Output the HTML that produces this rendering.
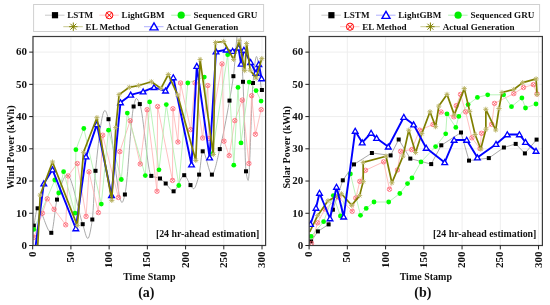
<!DOCTYPE html>
<html><head><meta charset="utf-8"><style>
html,body{margin:0;padding:0;background:#fff;width:550px;height:305px;overflow:hidden}
svg{display:block}
body>svg{will-change:transform}
text{font-family:"Liberation Serif",serif;font-weight:bold;fill:#111}
.tk{font-size:11px}
.ax{font-size:10px}
.lab{font-size:14px}
.lg{font-size:9.1px}
.ann{font-size:9.9px}
</style></head><body>
<svg width="550" height="305" viewBox="0 0 550 305">
<rect width="550" height="305" fill="#fff"/>
<line x1="32.7" y1="36.5" x2="32.7" y2="245.5" stroke="#ececec" stroke-width="0.9"/>
<line x1="70.92" y1="36.5" x2="70.92" y2="245.5" stroke="#ececec" stroke-width="0.9"/>
<line x1="109.14" y1="36.5" x2="109.14" y2="245.5" stroke="#ececec" stroke-width="0.9"/>
<line x1="147.36" y1="36.5" x2="147.36" y2="245.5" stroke="#ececec" stroke-width="0.9"/>
<line x1="185.58" y1="36.5" x2="185.58" y2="245.5" stroke="#ececec" stroke-width="0.9"/>
<line x1="223.8" y1="36.5" x2="223.8" y2="245.5" stroke="#ececec" stroke-width="0.9"/>
<line x1="262.02" y1="36.5" x2="262.02" y2="245.5" stroke="#ececec" stroke-width="0.9"/>
<line x1="33" y1="213.27" x2="265.6" y2="213.27" stroke="#ececec" stroke-width="0.9"/>
<line x1="33" y1="181.04" x2="265.6" y2="181.04" stroke="#ececec" stroke-width="0.9"/>
<line x1="33" y1="148.81" x2="265.6" y2="148.81" stroke="#ececec" stroke-width="0.9"/>
<line x1="33" y1="116.58" x2="265.6" y2="116.58" stroke="#ececec" stroke-width="0.9"/>
<line x1="33" y1="84.35" x2="265.6" y2="84.35" stroke="#ececec" stroke-width="0.9"/>
<line x1="33" y1="52.12" x2="265.6" y2="52.12" stroke="#ececec" stroke-width="0.9"/>
<line x1="309.1" y1="36.5" x2="309.1" y2="245.5" stroke="#ececec" stroke-width="0.9"/>
<line x1="347.34" y1="36.5" x2="347.34" y2="245.5" stroke="#ececec" stroke-width="0.9"/>
<line x1="385.58" y1="36.5" x2="385.58" y2="245.5" stroke="#ececec" stroke-width="0.9"/>
<line x1="423.82" y1="36.5" x2="423.82" y2="245.5" stroke="#ececec" stroke-width="0.9"/>
<line x1="462.06" y1="36.5" x2="462.06" y2="245.5" stroke="#ececec" stroke-width="0.9"/>
<line x1="500.3" y1="36.5" x2="500.3" y2="245.5" stroke="#ececec" stroke-width="0.9"/>
<line x1="538.54" y1="36.5" x2="538.54" y2="245.5" stroke="#ececec" stroke-width="0.9"/>
<line x1="309.2" y1="213.27" x2="542.4" y2="213.27" stroke="#ececec" stroke-width="0.9"/>
<line x1="309.2" y1="181.04" x2="542.4" y2="181.04" stroke="#ececec" stroke-width="0.9"/>
<line x1="309.2" y1="148.81" x2="542.4" y2="148.81" stroke="#ececec" stroke-width="0.9"/>
<line x1="309.2" y1="116.58" x2="542.4" y2="116.58" stroke="#ececec" stroke-width="0.9"/>
<line x1="309.2" y1="84.35" x2="542.4" y2="84.35" stroke="#ececec" stroke-width="0.9"/>
<line x1="309.2" y1="52.12" x2="542.4" y2="52.12" stroke="#ececec" stroke-width="0.9"/>
<svg x="0" y="0" width="550" height="305"><defs><clipPath id="cl"><rect x="33" y="36.5" width="232.6" height="209"/></clipPath></defs><g clip-path="url(#cl)">
<path d="M33.8,225.6 C35.07,219.83 36.33,208.3 37.6,208.3 C42.17,208.3 46.73,232.8 51.3,232.8 C53.2,232.8 55.1,206.43 57,199.6 C60.33,187.63 63.67,175 67,175 C72.23,175 77.47,208.86 82.7,224.2 C84.4,229.18 86.1,238.5 87.8,238.5 C89.3,238.5 90.8,229.74 92.3,219.5 C93.37,212.22 94.43,181.12 95.5,170.8 C98.63,140.5 101.77,110.5 104.9,110.5 C106.1,110.5 107.3,115.36 108.5,119.2 C113,133.61 117.5,202.5 122,202.5 C122.97,202.5 123.93,198.33 124.9,194.5 C127.8,183.02 130.7,118.63 133.6,106.5 C134.5,102.74 135.4,98.5 136.3,98.5 C137.47,98.5 138.63,101.41 139.8,104.1 C143.63,112.93 147.47,173.8 151.3,175.9 C154.2,177.49 157.1,177.16 160,178.5 C161.9,179.38 163.8,181.74 165.7,183.5 C168.33,185.94 170.97,191.3 173.6,191.3 C177.13,191.3 180.67,175.2 184.2,175.2 C186.3,175.2 188.4,182.34 190.5,185.1 C191.53,186.46 192.57,188.7 193.6,188.7 C195.43,188.7 197.27,181.54 199.1,174.6 C200.3,170.06 201.5,151.3 202.7,151.3 C205.77,151.3 208.83,174.6 211.9,174.6 C214.53,174.6 217.17,159.36 219.8,149.1 C223.03,136.51 226.27,118.86 229.5,100.6 C230.8,93.26 232.1,85.82 233.4,76.2 C235.27,62.39 237.13,24 239,24 C240.33,24 241.67,55.4 243,81.8 C244,101.6 245,164.31 246,171.3 C246.73,176.43 247.47,180.4 248.2,180.4 C249.8,180.4 251.4,100.23 253,83 C254.17,70.43 255.33,56.5 256.5,56.5 C258.17,56.5 259.83,78.83 261.5,90" fill="none" stroke="#a0a0a0" stroke-width="0.9"/>
<polyline points="34,237.3 42.4,213.3 47.3,198.8 54.1,209.3 65.7,224.8 68.1,175.9 77.3,163.5 86.1,216.4 89,171.8 98.4,212.6 102.7,135.2 118.4,197.5 119.8,151.6 130.2,120.7 140.2,164 147.1,109.7 157,191.3 157.6,106.5 172.5,180.4 172.9,108.7 177.9,142 180.5,83 190.7,129.6 195,82.8 202.6,138 207.8,85.5 208.9,138.5 222,63.9 224,141.2 229.2,155.6 234.8,120.6 242.3,100.1 248.9,163.5 251.6,95.7 255.4,134.3 261.2,109.6" fill="none" stroke="#ffb0b0" stroke-width="0.8" stroke-linejoin="round" stroke-opacity="1"/>
<polyline points="33.8,229.4 54.8,180 58.7,193 63.6,171.7 75,213.2 75.9,149.7 83.8,128.5 101.3,204.1 108.5,130.2 121.3,179.5 127.3,113.1 145.3,175.6 149.6,101.9 159,169.8 166.3,104.6 178.8,185.5 187.8,83 204.3,77.1 212.3,153.6 227.7,54.7 233.8,165.2 238,87.4 241,142.9 249.2,82.1 256.1,90.6 261.1,101.1" fill="none" stroke="#a8f0a8" stroke-width="0.8" stroke-linejoin="round" stroke-opacity="1"/>
<rect x="31.8" y="223.6" width="4" height="4" fill="#000"/>
<rect x="35.6" y="206.3" width="4" height="4" fill="#000"/>
<rect x="49.3" y="230.8" width="4" height="4" fill="#000"/>
<rect x="55" y="197.6" width="4" height="4" fill="#000"/>
<rect x="80.7" y="222.2" width="4" height="4" fill="#000"/>
<rect x="90.3" y="217.5" width="4" height="4" fill="#000"/>
<rect x="93.5" y="168.8" width="4" height="4" fill="#000"/>
<rect x="106.5" y="117.2" width="4" height="4" fill="#000"/>
<rect x="122.9" y="192.5" width="4" height="4" fill="#000"/>
<rect x="131.6" y="104.5" width="4" height="4" fill="#000"/>
<rect x="137.8" y="102.1" width="4" height="4" fill="#000"/>
<rect x="149.3" y="173.9" width="4" height="4" fill="#000"/>
<rect x="158" y="176.5" width="4" height="4" fill="#000"/>
<rect x="163.7" y="181.5" width="4" height="4" fill="#000"/>
<rect x="171.6" y="189.3" width="4" height="4" fill="#000"/>
<rect x="182.2" y="173.2" width="4" height="4" fill="#000"/>
<rect x="188.5" y="183.1" width="4" height="4" fill="#000"/>
<rect x="197.1" y="172.6" width="4" height="4" fill="#000"/>
<rect x="200.7" y="149.3" width="4" height="4" fill="#000"/>
<rect x="209.9" y="172.6" width="4" height="4" fill="#000"/>
<rect x="217.8" y="147.1" width="4" height="4" fill="#000"/>
<rect x="227.5" y="98.6" width="4" height="4" fill="#000"/>
<rect x="231.4" y="74.2" width="4" height="4" fill="#000"/>
<rect x="241" y="79.8" width="4" height="4" fill="#000"/>
<rect x="244" y="169.3" width="4" height="4" fill="#000"/>
<rect x="251" y="81" width="4" height="4" fill="#000"/>
<rect x="259.9" y="88" width="4" height="4" fill="#000"/>
<circle cx="34" cy="237.3" r="2.2" fill="none" stroke="#ff5566" stroke-width="0.7"/><path d="M32.35,235.65L35.65,238.95M32.35,238.95L35.65,235.65" stroke="#ff5566" stroke-width="0.7"/>
<circle cx="42.4" cy="213.3" r="2.2" fill="none" stroke="#ff5566" stroke-width="0.7"/><path d="M40.75,211.65L44.05,214.95M40.75,214.95L44.05,211.65" stroke="#ff5566" stroke-width="0.7"/>
<circle cx="47.3" cy="198.8" r="2.2" fill="none" stroke="#ff5566" stroke-width="0.7"/><path d="M45.65,197.15L48.95,200.45M45.65,200.45L48.95,197.15" stroke="#ff5566" stroke-width="0.7"/>
<circle cx="54.1" cy="209.3" r="2.2" fill="none" stroke="#ff5566" stroke-width="0.7"/><path d="M52.45,207.65L55.75,210.95M52.45,210.95L55.75,207.65" stroke="#ff5566" stroke-width="0.7"/>
<circle cx="65.7" cy="224.8" r="2.2" fill="none" stroke="#ff5566" stroke-width="0.7"/><path d="M64.05,223.15L67.35,226.45M64.05,226.45L67.35,223.15" stroke="#ff5566" stroke-width="0.7"/>
<circle cx="68.1" cy="175.9" r="2.2" fill="none" stroke="#ff5566" stroke-width="0.7"/><path d="M66.45,174.25L69.75,177.55M66.45,177.55L69.75,174.25" stroke="#ff5566" stroke-width="0.7"/>
<circle cx="77.3" cy="163.5" r="2.2" fill="none" stroke="#ff5566" stroke-width="0.7"/><path d="M75.65,161.85L78.95,165.15M75.65,165.15L78.95,161.85" stroke="#ff5566" stroke-width="0.7"/>
<circle cx="86.1" cy="216.4" r="2.2" fill="none" stroke="#ff5566" stroke-width="0.7"/><path d="M84.45,214.75L87.75,218.05M84.45,218.05L87.75,214.75" stroke="#ff5566" stroke-width="0.7"/>
<circle cx="89" cy="171.8" r="2.2" fill="none" stroke="#ff5566" stroke-width="0.7"/><path d="M87.35,170.15L90.65,173.45M87.35,173.45L90.65,170.15" stroke="#ff5566" stroke-width="0.7"/>
<circle cx="98.4" cy="212.6" r="2.2" fill="none" stroke="#ff5566" stroke-width="0.7"/><path d="M96.75,210.95L100.05,214.25M96.75,214.25L100.05,210.95" stroke="#ff5566" stroke-width="0.7"/>
<circle cx="102.7" cy="135.2" r="2.2" fill="none" stroke="#ff5566" stroke-width="0.7"/><path d="M101.05,133.55L104.35,136.85M101.05,136.85L104.35,133.55" stroke="#ff5566" stroke-width="0.7"/>
<circle cx="118.4" cy="197.5" r="2.2" fill="none" stroke="#ff5566" stroke-width="0.7"/><path d="M116.75,195.85L120.05,199.15M116.75,199.15L120.05,195.85" stroke="#ff5566" stroke-width="0.7"/>
<circle cx="119.8" cy="151.6" r="2.2" fill="none" stroke="#ff5566" stroke-width="0.7"/><path d="M118.15,149.95L121.45,153.25M118.15,153.25L121.45,149.95" stroke="#ff5566" stroke-width="0.7"/>
<circle cx="130.2" cy="120.7" r="2.2" fill="none" stroke="#ff5566" stroke-width="0.7"/><path d="M128.55,119.05L131.85,122.35M128.55,122.35L131.85,119.05" stroke="#ff5566" stroke-width="0.7"/>
<circle cx="140.2" cy="164" r="2.2" fill="none" stroke="#ff5566" stroke-width="0.7"/><path d="M138.55,162.35L141.85,165.65M138.55,165.65L141.85,162.35" stroke="#ff5566" stroke-width="0.7"/>
<circle cx="147.1" cy="109.7" r="2.2" fill="none" stroke="#ff5566" stroke-width="0.7"/><path d="M145.45,108.05L148.75,111.35M145.45,111.35L148.75,108.05" stroke="#ff5566" stroke-width="0.7"/>
<circle cx="157" cy="191.3" r="2.2" fill="none" stroke="#ff5566" stroke-width="0.7"/><path d="M155.35,189.65L158.65,192.95M155.35,192.95L158.65,189.65" stroke="#ff5566" stroke-width="0.7"/>
<circle cx="157.6" cy="106.5" r="2.2" fill="none" stroke="#ff5566" stroke-width="0.7"/><path d="M155.95,104.85L159.25,108.15M155.95,108.15L159.25,104.85" stroke="#ff5566" stroke-width="0.7"/>
<circle cx="172.5" cy="180.4" r="2.2" fill="none" stroke="#ff5566" stroke-width="0.7"/><path d="M170.85,178.75L174.15,182.05M170.85,182.05L174.15,178.75" stroke="#ff5566" stroke-width="0.7"/>
<circle cx="172.9" cy="108.7" r="2.2" fill="none" stroke="#ff5566" stroke-width="0.7"/><path d="M171.25,107.05L174.55,110.35M171.25,110.35L174.55,107.05" stroke="#ff5566" stroke-width="0.7"/>
<circle cx="177.9" cy="142" r="2.2" fill="none" stroke="#ff5566" stroke-width="0.7"/><path d="M176.25,140.35L179.55,143.65M176.25,143.65L179.55,140.35" stroke="#ff5566" stroke-width="0.7"/>
<circle cx="180.5" cy="83" r="2.2" fill="none" stroke="#ff5566" stroke-width="0.7"/><path d="M178.85,81.35L182.15,84.65M178.85,84.65L182.15,81.35" stroke="#ff5566" stroke-width="0.7"/>
<circle cx="190.7" cy="129.6" r="2.2" fill="none" stroke="#ff5566" stroke-width="0.7"/><path d="M189.05,127.95L192.35,131.25M189.05,131.25L192.35,127.95" stroke="#ff5566" stroke-width="0.7"/>
<circle cx="195" cy="82.8" r="2.2" fill="none" stroke="#ff5566" stroke-width="0.7"/><path d="M193.35,81.15L196.65,84.45M193.35,84.45L196.65,81.15" stroke="#ff5566" stroke-width="0.7"/>
<circle cx="202.6" cy="138" r="2.2" fill="none" stroke="#ff5566" stroke-width="0.7"/><path d="M200.95,136.35L204.25,139.65M200.95,139.65L204.25,136.35" stroke="#ff5566" stroke-width="0.7"/>
<circle cx="207.8" cy="85.5" r="2.2" fill="none" stroke="#ff5566" stroke-width="0.7"/><path d="M206.15,83.85L209.45,87.15M206.15,87.15L209.45,83.85" stroke="#ff5566" stroke-width="0.7"/>
<circle cx="208.9" cy="138.5" r="2.2" fill="none" stroke="#ff5566" stroke-width="0.7"/><path d="M207.25,136.85L210.55,140.15M207.25,140.15L210.55,136.85" stroke="#ff5566" stroke-width="0.7"/>
<circle cx="222" cy="63.9" r="2.2" fill="none" stroke="#ff5566" stroke-width="0.7"/><path d="M220.35,62.25L223.65,65.55M220.35,65.55L223.65,62.25" stroke="#ff5566" stroke-width="0.7"/>
<circle cx="224" cy="141.2" r="2.2" fill="none" stroke="#ff5566" stroke-width="0.7"/><path d="M222.35,139.55L225.65,142.85M222.35,142.85L225.65,139.55" stroke="#ff5566" stroke-width="0.7"/>
<circle cx="229.2" cy="155.6" r="2.2" fill="none" stroke="#ff5566" stroke-width="0.7"/><path d="M227.55,153.95L230.85,157.25M227.55,157.25L230.85,153.95" stroke="#ff5566" stroke-width="0.7"/>
<circle cx="234.8" cy="120.6" r="2.2" fill="none" stroke="#ff5566" stroke-width="0.7"/><path d="M233.15,118.95L236.45,122.25M233.15,122.25L236.45,118.95" stroke="#ff5566" stroke-width="0.7"/>
<circle cx="242.3" cy="100.1" r="2.2" fill="none" stroke="#ff5566" stroke-width="0.7"/><path d="M240.65,98.45L243.95,101.75M240.65,101.75L243.95,98.45" stroke="#ff5566" stroke-width="0.7"/>
<circle cx="248.9" cy="163.5" r="2.2" fill="none" stroke="#ff5566" stroke-width="0.7"/><path d="M247.25,161.85L250.55,165.15M247.25,165.15L250.55,161.85" stroke="#ff5566" stroke-width="0.7"/>
<circle cx="251.6" cy="95.7" r="2.2" fill="none" stroke="#ff5566" stroke-width="0.7"/><path d="M249.95,94.05L253.25,97.35M249.95,97.35L253.25,94.05" stroke="#ff5566" stroke-width="0.7"/>
<circle cx="255.4" cy="134.3" r="2.2" fill="none" stroke="#ff5566" stroke-width="0.7"/><path d="M253.75,132.65L257.05,135.95M253.75,135.95L257.05,132.65" stroke="#ff5566" stroke-width="0.7"/>
<circle cx="261.2" cy="109.6" r="2.2" fill="none" stroke="#ff5566" stroke-width="0.7"/><path d="M259.55,107.95L262.85,111.25M259.55,111.25L262.85,107.95" stroke="#ff5566" stroke-width="0.7"/>
<circle cx="33.8" cy="229.4" r="2.4" fill="#00ff00"/>
<circle cx="54.8" cy="180" r="2.4" fill="#00ff00"/>
<circle cx="58.7" cy="193" r="2.4" fill="#00ff00"/>
<circle cx="63.6" cy="171.7" r="2.4" fill="#00ff00"/>
<circle cx="75" cy="213.2" r="2.4" fill="#00ff00"/>
<circle cx="75.9" cy="149.7" r="2.4" fill="#00ff00"/>
<circle cx="83.8" cy="128.5" r="2.4" fill="#00ff00"/>
<circle cx="101.3" cy="204.1" r="2.4" fill="#00ff00"/>
<circle cx="108.5" cy="130.2" r="2.4" fill="#00ff00"/>
<circle cx="121.3" cy="179.5" r="2.4" fill="#00ff00"/>
<circle cx="127.3" cy="113.1" r="2.4" fill="#00ff00"/>
<circle cx="145.3" cy="175.6" r="2.4" fill="#00ff00"/>
<circle cx="149.6" cy="101.9" r="2.4" fill="#00ff00"/>
<circle cx="159" cy="169.8" r="2.4" fill="#00ff00"/>
<circle cx="166.3" cy="104.6" r="2.4" fill="#00ff00"/>
<circle cx="178.8" cy="185.5" r="2.4" fill="#00ff00"/>
<circle cx="187.8" cy="83" r="2.4" fill="#00ff00"/>
<circle cx="204.3" cy="77.1" r="2.4" fill="#00ff00"/>
<circle cx="212.3" cy="153.6" r="2.4" fill="#00ff00"/>
<circle cx="227.7" cy="54.7" r="2.4" fill="#00ff00"/>
<circle cx="233.8" cy="165.2" r="2.4" fill="#00ff00"/>
<circle cx="238" cy="87.4" r="2.4" fill="#00ff00"/>
<circle cx="241" cy="142.9" r="2.4" fill="#00ff00"/>
<circle cx="249.2" cy="82.1" r="2.4" fill="#00ff00"/>
<circle cx="256.1" cy="90.6" r="2.4" fill="#00ff00"/>
<circle cx="261.1" cy="101.1" r="2.4" fill="#00ff00"/>
<polyline points="35.2,249 43.8,183.7 52.5,169.6 75.8,228.5 86,156.6 96.9,124.4 111.5,195.3 120.5,102.5 130.7,94.9 143.1,91.7 154,87.3 165.5,90.8 173.3,77.5 191.5,164.7 196.8,66.1 209.6,157.7 216,51.7 226.2,49.8 232.6,51.2 238.4,47.8 241.1,63.9 243.9,50 250.6,62.3 256,73 258.8,64.3 261.6,78.5" fill="none" stroke="#0000ff" stroke-width="1.9" stroke-linejoin="round" stroke-opacity="1"/>
<polygon points="43.8,180.97 40.95,185.93 46.65,185.93" fill="#fff" stroke="#0000ff" stroke-width="1.35" stroke-linejoin="miter"/>
<polygon points="52.5,166.87 49.65,171.83 55.35,171.83" fill="#fff" stroke="#0000ff" stroke-width="1.35" stroke-linejoin="miter"/>
<polygon points="75.8,225.77 72.95,230.73 78.65,230.73" fill="#fff" stroke="#0000ff" stroke-width="1.35" stroke-linejoin="miter"/>
<polygon points="86,153.87 83.15,158.83 88.85,158.83" fill="#fff" stroke="#0000ff" stroke-width="1.35" stroke-linejoin="miter"/>
<polygon points="96.9,121.67 94.05,126.63 99.75,126.63" fill="#fff" stroke="#0000ff" stroke-width="1.35" stroke-linejoin="miter"/>
<polygon points="111.5,192.57 108.65,197.53 114.35,197.53" fill="#fff" stroke="#0000ff" stroke-width="1.35" stroke-linejoin="miter"/>
<polygon points="120.5,99.77 117.65,104.73 123.35,104.73" fill="#fff" stroke="#0000ff" stroke-width="1.35" stroke-linejoin="miter"/>
<polygon points="130.7,92.17 127.85,97.13 133.55,97.13" fill="#fff" stroke="#0000ff" stroke-width="1.35" stroke-linejoin="miter"/>
<polygon points="143.1,88.97 140.25,93.93 145.95,93.93" fill="#fff" stroke="#0000ff" stroke-width="1.35" stroke-linejoin="miter"/>
<polygon points="154,84.57 151.15,89.53 156.85,89.53" fill="#fff" stroke="#0000ff" stroke-width="1.35" stroke-linejoin="miter"/>
<polygon points="165.5,88.07 162.65,93.03 168.35,93.03" fill="#fff" stroke="#0000ff" stroke-width="1.35" stroke-linejoin="miter"/>
<polygon points="173.3,74.77 170.45,79.73 176.15,79.73" fill="#fff" stroke="#0000ff" stroke-width="1.35" stroke-linejoin="miter"/>
<polygon points="191.5,161.97 188.65,166.93 194.35,166.93" fill="#fff" stroke="#0000ff" stroke-width="1.35" stroke-linejoin="miter"/>
<polygon points="196.8,63.37 193.95,68.33 199.65,68.33" fill="#fff" stroke="#0000ff" stroke-width="1.35" stroke-linejoin="miter"/>
<polygon points="209.6,154.97 206.75,159.93 212.45,159.93" fill="#fff" stroke="#0000ff" stroke-width="1.35" stroke-linejoin="miter"/>
<polygon points="216,48.97 213.15,53.93 218.85,53.93" fill="#fff" stroke="#0000ff" stroke-width="1.35" stroke-linejoin="miter"/>
<polygon points="226.2,47.07 223.35,52.03 229.05,52.03" fill="#fff" stroke="#0000ff" stroke-width="1.35" stroke-linejoin="miter"/>
<polygon points="232.6,48.47 229.75,53.43 235.45,53.43" fill="#fff" stroke="#0000ff" stroke-width="1.35" stroke-linejoin="miter"/>
<polygon points="238.4,45.07 235.55,50.03 241.25,50.03" fill="#fff" stroke="#0000ff" stroke-width="1.35" stroke-linejoin="miter"/>
<polygon points="241.1,61.17 238.25,66.13 243.95,66.13" fill="#fff" stroke="#0000ff" stroke-width="1.35" stroke-linejoin="miter"/>
<polygon points="243.9,47.27 241.05,52.23 246.75,52.23" fill="#fff" stroke="#0000ff" stroke-width="1.35" stroke-linejoin="miter"/>
<polygon points="250.6,59.57 247.75,64.53 253.45,64.53" fill="#fff" stroke="#0000ff" stroke-width="1.35" stroke-linejoin="miter"/>
<polygon points="256,70.27 253.15,75.23 258.85,75.23" fill="#fff" stroke="#0000ff" stroke-width="1.35" stroke-linejoin="miter"/>
<polygon points="258.8,61.57 255.95,66.53 261.65,66.53" fill="#fff" stroke="#0000ff" stroke-width="1.35" stroke-linejoin="miter"/>
<polygon points="261.6,75.77 258.75,80.73 264.45,80.73" fill="#fff" stroke="#0000ff" stroke-width="1.35" stroke-linejoin="miter"/>
<polyline points="37.6,249 40.2,195.1 52.5,162 77.3,225.6 83.5,152.3 96.9,117.7 111.8,200.4 115.8,127.6 119.1,94.6 129.3,87.3 138.7,85.5 151.4,81.8 161,88.4 168.3,74.5 177.6,94.9 195.8,160.4 200.1,59.5 213.3,154.5 215.5,42.5 223.7,41.5 233.6,59.4 239.1,40.7 244.7,70.6 246.6,43.5 250.2,70.2 256.1,78.1 261.8,58.6" fill="none" stroke="#7f7f00" stroke-width="1.7" stroke-linejoin="round" stroke-opacity="1"/>
<circle cx="40.2" cy="195.1" r="1.6" fill="#f4f4e0"/><path d="M37.6,195.1L42.8,195.1M38.36,193.26L42.04,196.94M40.2,192.5L40.2,197.7M42.04,193.26L38.36,196.94" stroke="#b0a850" stroke-width="0.8"/>
<circle cx="52.5" cy="162" r="1.6" fill="#f4f4e0"/><path d="M49.9,162L55.1,162M50.66,160.16L54.34,163.84M52.5,159.4L52.5,164.6M54.34,160.16L50.66,163.84" stroke="#b0a850" stroke-width="0.8"/>
<circle cx="77.3" cy="225.6" r="1.6" fill="#f4f4e0"/><path d="M74.7,225.6L79.9,225.6M75.46,223.76L79.14,227.44M77.3,223L77.3,228.2M79.14,223.76L75.46,227.44" stroke="#b0a850" stroke-width="0.8"/>
<circle cx="83.5" cy="152.3" r="1.6" fill="#f4f4e0"/><path d="M80.9,152.3L86.1,152.3M81.66,150.46L85.34,154.14M83.5,149.7L83.5,154.9M85.34,150.46L81.66,154.14" stroke="#b0a850" stroke-width="0.8"/>
<circle cx="96.9" cy="117.7" r="1.6" fill="#f4f4e0"/><path d="M94.3,117.7L99.5,117.7M95.06,115.86L98.74,119.54M96.9,115.1L96.9,120.3M98.74,115.86L95.06,119.54" stroke="#b0a850" stroke-width="0.8"/>
<circle cx="111.8" cy="200.4" r="1.6" fill="#f4f4e0"/><path d="M109.2,200.4L114.4,200.4M109.96,198.56L113.64,202.24M111.8,197.8L111.8,203M113.64,198.56L109.96,202.24" stroke="#b0a850" stroke-width="0.8"/>
<circle cx="115.8" cy="127.6" r="1.6" fill="#f4f4e0"/><path d="M113.2,127.6L118.4,127.6M113.96,125.76L117.64,129.44M115.8,125L115.8,130.2M117.64,125.76L113.96,129.44" stroke="#b0a850" stroke-width="0.8"/>
<circle cx="119.1" cy="94.6" r="1.6" fill="#f4f4e0"/><path d="M116.5,94.6L121.7,94.6M117.26,92.76L120.94,96.44M119.1,92L119.1,97.2M120.94,92.76L117.26,96.44" stroke="#b0a850" stroke-width="0.8"/>
<circle cx="129.3" cy="87.3" r="1.6" fill="#f4f4e0"/><path d="M126.7,87.3L131.9,87.3M127.46,85.46L131.14,89.14M129.3,84.7L129.3,89.9M131.14,85.46L127.46,89.14" stroke="#b0a850" stroke-width="0.8"/>
<circle cx="138.7" cy="85.5" r="1.6" fill="#f4f4e0"/><path d="M136.1,85.5L141.3,85.5M136.86,83.66L140.54,87.34M138.7,82.9L138.7,88.1M140.54,83.66L136.86,87.34" stroke="#b0a850" stroke-width="0.8"/>
<circle cx="151.4" cy="81.8" r="1.6" fill="#f4f4e0"/><path d="M148.8,81.8L154,81.8M149.56,79.96L153.24,83.64M151.4,79.2L151.4,84.4M153.24,79.96L149.56,83.64" stroke="#b0a850" stroke-width="0.8"/>
<circle cx="161" cy="88.4" r="1.6" fill="#f4f4e0"/><path d="M158.4,88.4L163.6,88.4M159.16,86.56L162.84,90.24M161,85.8L161,91M162.84,86.56L159.16,90.24" stroke="#b0a850" stroke-width="0.8"/>
<circle cx="168.3" cy="74.5" r="1.6" fill="#f4f4e0"/><path d="M165.7,74.5L170.9,74.5M166.46,72.66L170.14,76.34M168.3,71.9L168.3,77.1M170.14,72.66L166.46,76.34" stroke="#b0a850" stroke-width="0.8"/>
<circle cx="177.6" cy="94.9" r="1.6" fill="#f4f4e0"/><path d="M175,94.9L180.2,94.9M175.76,93.06L179.44,96.74M177.6,92.3L177.6,97.5M179.44,93.06L175.76,96.74" stroke="#b0a850" stroke-width="0.8"/>
<circle cx="195.8" cy="160.4" r="1.6" fill="#f4f4e0"/><path d="M193.2,160.4L198.4,160.4M193.96,158.56L197.64,162.24M195.8,157.8L195.8,163M197.64,158.56L193.96,162.24" stroke="#b0a850" stroke-width="0.8"/>
<circle cx="200.1" cy="59.5" r="1.6" fill="#f4f4e0"/><path d="M197.5,59.5L202.7,59.5M198.26,57.66L201.94,61.34M200.1,56.9L200.1,62.1M201.94,57.66L198.26,61.34" stroke="#b0a850" stroke-width="0.8"/>
<circle cx="213.3" cy="154.5" r="1.6" fill="#f4f4e0"/><path d="M210.7,154.5L215.9,154.5M211.46,152.66L215.14,156.34M213.3,151.9L213.3,157.1M215.14,152.66L211.46,156.34" stroke="#b0a850" stroke-width="0.8"/>
<circle cx="215.5" cy="42.5" r="1.6" fill="#f4f4e0"/><path d="M212.9,42.5L218.1,42.5M213.66,40.66L217.34,44.34M215.5,39.9L215.5,45.1M217.34,40.66L213.66,44.34" stroke="#b0a850" stroke-width="0.8"/>
<circle cx="223.7" cy="41.5" r="1.6" fill="#f4f4e0"/><path d="M221.1,41.5L226.3,41.5M221.86,39.66L225.54,43.34M223.7,38.9L223.7,44.1M225.54,39.66L221.86,43.34" stroke="#b0a850" stroke-width="0.8"/>
<circle cx="233.6" cy="59.4" r="1.6" fill="#f4f4e0"/><path d="M231,59.4L236.2,59.4M231.76,57.56L235.44,61.24M233.6,56.8L233.6,62M235.44,57.56L231.76,61.24" stroke="#b0a850" stroke-width="0.8"/>
<circle cx="239.1" cy="40.7" r="1.6" fill="#f4f4e0"/><path d="M236.5,40.7L241.7,40.7M237.26,38.86L240.94,42.54M239.1,38.1L239.1,43.3M240.94,38.86L237.26,42.54" stroke="#b0a850" stroke-width="0.8"/>
<circle cx="244.7" cy="70.6" r="1.6" fill="#f4f4e0"/><path d="M242.1,70.6L247.3,70.6M242.86,68.76L246.54,72.44M244.7,68L244.7,73.2M246.54,68.76L242.86,72.44" stroke="#b0a850" stroke-width="0.8"/>
<circle cx="246.6" cy="43.5" r="1.6" fill="#f4f4e0"/><path d="M244,43.5L249.2,43.5M244.76,41.66L248.44,45.34M246.6,40.9L246.6,46.1M248.44,41.66L244.76,45.34" stroke="#b0a850" stroke-width="0.8"/>
<circle cx="250.2" cy="70.2" r="1.6" fill="#f4f4e0"/><path d="M247.6,70.2L252.8,70.2M248.36,68.36L252.04,72.04M250.2,67.6L250.2,72.8M252.04,68.36L248.36,72.04" stroke="#b0a850" stroke-width="0.8"/>
<circle cx="256.1" cy="78.1" r="1.6" fill="#f4f4e0"/><path d="M253.5,78.1L258.7,78.1M254.26,76.26L257.94,79.94M256.1,75.5L256.1,80.7M257.94,76.26L254.26,79.94" stroke="#b0a850" stroke-width="0.8"/>
<circle cx="261.8" cy="58.6" r="1.6" fill="#f4f4e0"/><path d="M259.2,58.6L264.4,58.6M259.96,56.76L263.64,60.44M261.8,56L261.8,61.2M263.64,56.76L259.96,60.44" stroke="#b0a850" stroke-width="0.8"/>
</g></svg>
<svg x="0" y="0" width="550" height="305"><defs><clipPath id="cr"><rect x="309.2" y="36.5" width="233.2" height="209"/></clipPath></defs><g clip-path="url(#cr)">
<polyline points="311.1,241.4 317.9,231.4 328.6,224.4 332.9,209.7 342.8,180.3 354,164.4 371.9,153 390.6,155.4 398.7,139.5 410.3,158.6 431.2,164.1 441.3,145.3 461,132.5 469,160.6 488.8,158.1 503.9,147.5 515.7,143.9 524.9,153.4 536.6,139.6" fill="none" stroke="#a0a0a0" stroke-width="0.9" stroke-linejoin="round" stroke-opacity="1"/>
<polyline points="311.5,243.4 317.6,222.8 325,209 338.8,197.3 352.2,211.3 355.8,198 359.8,181.4 365.5,170.3 383.6,161.8 389.5,189.3 397.4,170 400.6,151.3 411.7,149.6 419.6,130.2 433,124.5 441.1,112 453.9,116.8 456.3,105.6 460.5,94.4 465.6,111.8 471.9,137.8 480,148.6 481.5,133.3 491.7,124.3 494.5,103.4 513.8,93.6 523.5,87.5 533.4,84.6 537,94" fill="none" stroke="#ffb0b0" stroke-width="0.8" stroke-linejoin="round" stroke-opacity="1"/>
<polyline points="311.1,236.4 323.6,221.7 333.3,195.6 340.4,216 350.4,173.9 360.5,215.3 366.2,208.4 374,202 388.7,202 399.8,193.5 407.5,183.6 412,177.9 421,161.9 435.6,146.6 445.7,133.8 447,113.9 455.8,127.4 458.8,116.4 468.1,104.6 477.4,97.4 487.7,94.8 503.6,94.8 511.5,106.7 521.9,98 525.5,108 536,104" fill="none" stroke="#a8f0a8" stroke-width="0.8" stroke-linejoin="round" stroke-opacity="1"/>
<rect x="309.1" y="239.4" width="4" height="4" fill="#000"/>
<rect x="315.9" y="229.4" width="4" height="4" fill="#000"/>
<rect x="326.6" y="222.4" width="4" height="4" fill="#000"/>
<rect x="330.9" y="207.7" width="4" height="4" fill="#000"/>
<rect x="340.8" y="178.3" width="4" height="4" fill="#000"/>
<rect x="352" y="162.4" width="4" height="4" fill="#000"/>
<rect x="369.9" y="151" width="4" height="4" fill="#000"/>
<rect x="388.6" y="153.4" width="4" height="4" fill="#000"/>
<rect x="396.7" y="137.5" width="4" height="4" fill="#000"/>
<rect x="408.3" y="156.6" width="4" height="4" fill="#000"/>
<rect x="429.2" y="162.1" width="4" height="4" fill="#000"/>
<rect x="439.3" y="143.3" width="4" height="4" fill="#000"/>
<rect x="459" y="130.5" width="4" height="4" fill="#000"/>
<rect x="467" y="158.6" width="4" height="4" fill="#000"/>
<rect x="486.8" y="156.1" width="4" height="4" fill="#000"/>
<rect x="501.9" y="145.5" width="4" height="4" fill="#000"/>
<rect x="513.7" y="141.9" width="4" height="4" fill="#000"/>
<rect x="522.9" y="151.4" width="4" height="4" fill="#000"/>
<rect x="534.6" y="137.6" width="4" height="4" fill="#000"/>
<circle cx="311.5" cy="243.4" r="2.2" fill="none" stroke="#ff5566" stroke-width="0.7"/><path d="M309.85,241.75L313.15,245.05M309.85,245.05L313.15,241.75" stroke="#ff5566" stroke-width="0.7"/>
<circle cx="317.6" cy="222.8" r="2.2" fill="none" stroke="#ff5566" stroke-width="0.7"/><path d="M315.95,221.15L319.25,224.45M315.95,224.45L319.25,221.15" stroke="#ff5566" stroke-width="0.7"/>
<circle cx="325" cy="209" r="2.2" fill="none" stroke="#ff5566" stroke-width="0.7"/><path d="M323.35,207.35L326.65,210.65M323.35,210.65L326.65,207.35" stroke="#ff5566" stroke-width="0.7"/>
<circle cx="338.8" cy="197.3" r="2.2" fill="none" stroke="#ff5566" stroke-width="0.7"/><path d="M337.15,195.65L340.45,198.95M337.15,198.95L340.45,195.65" stroke="#ff5566" stroke-width="0.7"/>
<circle cx="352.2" cy="211.3" r="2.2" fill="none" stroke="#ff5566" stroke-width="0.7"/><path d="M350.55,209.65L353.85,212.95M350.55,212.95L353.85,209.65" stroke="#ff5566" stroke-width="0.7"/>
<circle cx="355.8" cy="198" r="2.2" fill="none" stroke="#ff5566" stroke-width="0.7"/><path d="M354.15,196.35L357.45,199.65M354.15,199.65L357.45,196.35" stroke="#ff5566" stroke-width="0.7"/>
<circle cx="359.8" cy="181.4" r="2.2" fill="none" stroke="#ff5566" stroke-width="0.7"/><path d="M358.15,179.75L361.45,183.05M358.15,183.05L361.45,179.75" stroke="#ff5566" stroke-width="0.7"/>
<circle cx="365.5" cy="170.3" r="2.2" fill="none" stroke="#ff5566" stroke-width="0.7"/><path d="M363.85,168.65L367.15,171.95M363.85,171.95L367.15,168.65" stroke="#ff5566" stroke-width="0.7"/>
<circle cx="383.6" cy="161.8" r="2.2" fill="none" stroke="#ff5566" stroke-width="0.7"/><path d="M381.95,160.15L385.25,163.45M381.95,163.45L385.25,160.15" stroke="#ff5566" stroke-width="0.7"/>
<circle cx="389.5" cy="189.3" r="2.2" fill="none" stroke="#ff5566" stroke-width="0.7"/><path d="M387.85,187.65L391.15,190.95M387.85,190.95L391.15,187.65" stroke="#ff5566" stroke-width="0.7"/>
<circle cx="397.4" cy="170" r="2.2" fill="none" stroke="#ff5566" stroke-width="0.7"/><path d="M395.75,168.35L399.05,171.65M395.75,171.65L399.05,168.35" stroke="#ff5566" stroke-width="0.7"/>
<circle cx="400.6" cy="151.3" r="2.2" fill="none" stroke="#ff5566" stroke-width="0.7"/><path d="M398.95,149.65L402.25,152.95M398.95,152.95L402.25,149.65" stroke="#ff5566" stroke-width="0.7"/>
<circle cx="411.7" cy="149.6" r="2.2" fill="none" stroke="#ff5566" stroke-width="0.7"/><path d="M410.05,147.95L413.35,151.25M410.05,151.25L413.35,147.95" stroke="#ff5566" stroke-width="0.7"/>
<circle cx="419.6" cy="130.2" r="2.2" fill="none" stroke="#ff5566" stroke-width="0.7"/><path d="M417.95,128.55L421.25,131.85M417.95,131.85L421.25,128.55" stroke="#ff5566" stroke-width="0.7"/>
<circle cx="433" cy="124.5" r="2.2" fill="none" stroke="#ff5566" stroke-width="0.7"/><path d="M431.35,122.85L434.65,126.15M431.35,126.15L434.65,122.85" stroke="#ff5566" stroke-width="0.7"/>
<circle cx="441.1" cy="112" r="2.2" fill="none" stroke="#ff5566" stroke-width="0.7"/><path d="M439.45,110.35L442.75,113.65M439.45,113.65L442.75,110.35" stroke="#ff5566" stroke-width="0.7"/>
<circle cx="453.9" cy="116.8" r="2.2" fill="none" stroke="#ff5566" stroke-width="0.7"/><path d="M452.25,115.15L455.55,118.45M452.25,118.45L455.55,115.15" stroke="#ff5566" stroke-width="0.7"/>
<circle cx="456.3" cy="105.6" r="2.2" fill="none" stroke="#ff5566" stroke-width="0.7"/><path d="M454.65,103.95L457.95,107.25M454.65,107.25L457.95,103.95" stroke="#ff5566" stroke-width="0.7"/>
<circle cx="460.5" cy="94.4" r="2.2" fill="none" stroke="#ff5566" stroke-width="0.7"/><path d="M458.85,92.75L462.15,96.05M458.85,96.05L462.15,92.75" stroke="#ff5566" stroke-width="0.7"/>
<circle cx="465.6" cy="111.8" r="2.2" fill="none" stroke="#ff5566" stroke-width="0.7"/><path d="M463.95,110.15L467.25,113.45M463.95,113.45L467.25,110.15" stroke="#ff5566" stroke-width="0.7"/>
<circle cx="471.9" cy="137.8" r="2.2" fill="none" stroke="#ff5566" stroke-width="0.7"/><path d="M470.25,136.15L473.55,139.45M470.25,139.45L473.55,136.15" stroke="#ff5566" stroke-width="0.7"/>
<circle cx="480" cy="148.6" r="2.2" fill="none" stroke="#ff5566" stroke-width="0.7"/><path d="M478.35,146.95L481.65,150.25M478.35,150.25L481.65,146.95" stroke="#ff5566" stroke-width="0.7"/>
<circle cx="481.5" cy="133.3" r="2.2" fill="none" stroke="#ff5566" stroke-width="0.7"/><path d="M479.85,131.65L483.15,134.95M479.85,134.95L483.15,131.65" stroke="#ff5566" stroke-width="0.7"/>
<circle cx="491.7" cy="124.3" r="2.2" fill="none" stroke="#ff5566" stroke-width="0.7"/><path d="M490.05,122.65L493.35,125.95M490.05,125.95L493.35,122.65" stroke="#ff5566" stroke-width="0.7"/>
<circle cx="494.5" cy="103.4" r="2.2" fill="none" stroke="#ff5566" stroke-width="0.7"/><path d="M492.85,101.75L496.15,105.05M492.85,105.05L496.15,101.75" stroke="#ff5566" stroke-width="0.7"/>
<circle cx="513.8" cy="93.6" r="2.2" fill="none" stroke="#ff5566" stroke-width="0.7"/><path d="M512.15,91.95L515.45,95.25M512.15,95.25L515.45,91.95" stroke="#ff5566" stroke-width="0.7"/>
<circle cx="523.5" cy="87.5" r="2.2" fill="none" stroke="#ff5566" stroke-width="0.7"/><path d="M521.85,85.85L525.15,89.15M521.85,89.15L525.15,85.85" stroke="#ff5566" stroke-width="0.7"/>
<circle cx="533.4" cy="84.6" r="2.2" fill="none" stroke="#ff5566" stroke-width="0.7"/><path d="M531.75,82.95L535.05,86.25M531.75,86.25L535.05,82.95" stroke="#ff5566" stroke-width="0.7"/>
<circle cx="537" cy="94" r="2.2" fill="none" stroke="#ff5566" stroke-width="0.7"/><path d="M535.35,92.35L538.65,95.65M535.35,95.65L538.65,92.35" stroke="#ff5566" stroke-width="0.7"/>
<circle cx="311.1" cy="236.4" r="2.4" fill="#00ff00"/>
<circle cx="323.6" cy="221.7" r="2.4" fill="#00ff00"/>
<circle cx="333.3" cy="195.6" r="2.4" fill="#00ff00"/>
<circle cx="340.4" cy="216" r="2.4" fill="#00ff00"/>
<circle cx="350.4" cy="173.9" r="2.4" fill="#00ff00"/>
<circle cx="360.5" cy="215.3" r="2.4" fill="#00ff00"/>
<circle cx="366.2" cy="208.4" r="2.4" fill="#00ff00"/>
<circle cx="374" cy="202" r="2.4" fill="#00ff00"/>
<circle cx="388.7" cy="202" r="2.4" fill="#00ff00"/>
<circle cx="399.8" cy="193.5" r="2.4" fill="#00ff00"/>
<circle cx="407.5" cy="183.6" r="2.4" fill="#00ff00"/>
<circle cx="412" cy="177.9" r="2.4" fill="#00ff00"/>
<circle cx="421" cy="161.9" r="2.4" fill="#00ff00"/>
<circle cx="435.6" cy="146.6" r="2.4" fill="#00ff00"/>
<circle cx="445.7" cy="133.8" r="2.4" fill="#00ff00"/>
<circle cx="447" cy="113.9" r="2.4" fill="#00ff00"/>
<circle cx="455.8" cy="127.4" r="2.4" fill="#00ff00"/>
<circle cx="458.8" cy="116.4" r="2.4" fill="#00ff00"/>
<circle cx="468.1" cy="104.6" r="2.4" fill="#00ff00"/>
<circle cx="477.4" cy="97.4" r="2.4" fill="#00ff00"/>
<circle cx="487.7" cy="94.8" r="2.4" fill="#00ff00"/>
<circle cx="503.6" cy="94.8" r="2.4" fill="#00ff00"/>
<circle cx="511.5" cy="106.7" r="2.4" fill="#00ff00"/>
<circle cx="521.9" cy="98" r="2.4" fill="#00ff00"/>
<circle cx="525.5" cy="108" r="2.4" fill="#00ff00"/>
<circle cx="536" cy="104" r="2.4" fill="#00ff00"/>
<polyline points="309.7,232 317.6,215.7 328,200.8 336.5,196.5 341.4,193.8 351.7,205.3 359.6,195.6 363.2,181.6 363.2,162.4 386,156.2 391.9,182.8 403,156.1 408.8,130.2 415.6,152.5 421.8,133.6 430,111.8 435.6,126.7 438.8,106.1 447,94.4 454.3,114.9 464.3,88.6 469.7,111.4 475.1,134.5 480.8,149 485.9,129.2 485.8,109.3 495.7,130 499,108.5 502,92.5 513.7,89.5 522.7,82.6 536.1,78.9 537.1,94.4" fill="none" stroke="#7f7f00" stroke-width="1.7" stroke-linejoin="round" stroke-opacity="1"/>
<circle cx="317.6" cy="215.7" r="1.6" fill="#f4f4e0"/><path d="M315,215.7L320.2,215.7M315.76,213.86L319.44,217.54M317.6,213.1L317.6,218.3M319.44,213.86L315.76,217.54" stroke="#b0a850" stroke-width="0.8"/>
<circle cx="328" cy="200.8" r="1.6" fill="#f4f4e0"/><path d="M325.4,200.8L330.6,200.8M326.16,198.96L329.84,202.64M328,198.2L328,203.4M329.84,198.96L326.16,202.64" stroke="#b0a850" stroke-width="0.8"/>
<circle cx="336.5" cy="196.5" r="1.6" fill="#f4f4e0"/><path d="M333.9,196.5L339.1,196.5M334.66,194.66L338.34,198.34M336.5,193.9L336.5,199.1M338.34,194.66L334.66,198.34" stroke="#b0a850" stroke-width="0.8"/>
<circle cx="341.4" cy="193.8" r="1.6" fill="#f4f4e0"/><path d="M338.8,193.8L344,193.8M339.56,191.96L343.24,195.64M341.4,191.2L341.4,196.4M343.24,191.96L339.56,195.64" stroke="#b0a850" stroke-width="0.8"/>
<circle cx="351.7" cy="205.3" r="1.6" fill="#f4f4e0"/><path d="M349.1,205.3L354.3,205.3M349.86,203.46L353.54,207.14M351.7,202.7L351.7,207.9M353.54,203.46L349.86,207.14" stroke="#b0a850" stroke-width="0.8"/>
<circle cx="359.6" cy="195.6" r="1.6" fill="#f4f4e0"/><path d="M357,195.6L362.2,195.6M357.76,193.76L361.44,197.44M359.6,193L359.6,198.2M361.44,193.76L357.76,197.44" stroke="#b0a850" stroke-width="0.8"/>
<circle cx="363.2" cy="181.6" r="1.6" fill="#f4f4e0"/><path d="M360.6,181.6L365.8,181.6M361.36,179.76L365.04,183.44M363.2,179L363.2,184.2M365.04,179.76L361.36,183.44" stroke="#b0a850" stroke-width="0.8"/>
<circle cx="363.2" cy="162.4" r="1.6" fill="#f4f4e0"/><path d="M360.6,162.4L365.8,162.4M361.36,160.56L365.04,164.24M363.2,159.8L363.2,165M365.04,160.56L361.36,164.24" stroke="#b0a850" stroke-width="0.8"/>
<circle cx="386" cy="156.2" r="1.6" fill="#f4f4e0"/><path d="M383.4,156.2L388.6,156.2M384.16,154.36L387.84,158.04M386,153.6L386,158.8M387.84,154.36L384.16,158.04" stroke="#b0a850" stroke-width="0.8"/>
<circle cx="391.9" cy="182.8" r="1.6" fill="#f4f4e0"/><path d="M389.3,182.8L394.5,182.8M390.06,180.96L393.74,184.64M391.9,180.2L391.9,185.4M393.74,180.96L390.06,184.64" stroke="#b0a850" stroke-width="0.8"/>
<circle cx="403" cy="156.1" r="1.6" fill="#f4f4e0"/><path d="M400.4,156.1L405.6,156.1M401.16,154.26L404.84,157.94M403,153.5L403,158.7M404.84,154.26L401.16,157.94" stroke="#b0a850" stroke-width="0.8"/>
<circle cx="408.8" cy="130.2" r="1.6" fill="#f4f4e0"/><path d="M406.2,130.2L411.4,130.2M406.96,128.36L410.64,132.04M408.8,127.6L408.8,132.8M410.64,128.36L406.96,132.04" stroke="#b0a850" stroke-width="0.8"/>
<circle cx="415.6" cy="152.5" r="1.6" fill="#f4f4e0"/><path d="M413,152.5L418.2,152.5M413.76,150.66L417.44,154.34M415.6,149.9L415.6,155.1M417.44,150.66L413.76,154.34" stroke="#b0a850" stroke-width="0.8"/>
<circle cx="421.8" cy="133.6" r="1.6" fill="#f4f4e0"/><path d="M419.2,133.6L424.4,133.6M419.96,131.76L423.64,135.44M421.8,131L421.8,136.2M423.64,131.76L419.96,135.44" stroke="#b0a850" stroke-width="0.8"/>
<circle cx="430" cy="111.8" r="1.6" fill="#f4f4e0"/><path d="M427.4,111.8L432.6,111.8M428.16,109.96L431.84,113.64M430,109.2L430,114.4M431.84,109.96L428.16,113.64" stroke="#b0a850" stroke-width="0.8"/>
<circle cx="435.6" cy="126.7" r="1.6" fill="#f4f4e0"/><path d="M433,126.7L438.2,126.7M433.76,124.86L437.44,128.54M435.6,124.1L435.6,129.3M437.44,124.86L433.76,128.54" stroke="#b0a850" stroke-width="0.8"/>
<circle cx="438.8" cy="106.1" r="1.6" fill="#f4f4e0"/><path d="M436.2,106.1L441.4,106.1M436.96,104.26L440.64,107.94M438.8,103.5L438.8,108.7M440.64,104.26L436.96,107.94" stroke="#b0a850" stroke-width="0.8"/>
<circle cx="447" cy="94.4" r="1.6" fill="#f4f4e0"/><path d="M444.4,94.4L449.6,94.4M445.16,92.56L448.84,96.24M447,91.8L447,97M448.84,92.56L445.16,96.24" stroke="#b0a850" stroke-width="0.8"/>
<circle cx="454.3" cy="114.9" r="1.6" fill="#f4f4e0"/><path d="M451.7,114.9L456.9,114.9M452.46,113.06L456.14,116.74M454.3,112.3L454.3,117.5M456.14,113.06L452.46,116.74" stroke="#b0a850" stroke-width="0.8"/>
<circle cx="464.3" cy="88.6" r="1.6" fill="#f4f4e0"/><path d="M461.7,88.6L466.9,88.6M462.46,86.76L466.14,90.44M464.3,86L464.3,91.2M466.14,86.76L462.46,90.44" stroke="#b0a850" stroke-width="0.8"/>
<circle cx="469.7" cy="111.4" r="1.6" fill="#f4f4e0"/><path d="M467.1,111.4L472.3,111.4M467.86,109.56L471.54,113.24M469.7,108.8L469.7,114M471.54,109.56L467.86,113.24" stroke="#b0a850" stroke-width="0.8"/>
<circle cx="475.1" cy="134.5" r="1.6" fill="#f4f4e0"/><path d="M472.5,134.5L477.7,134.5M473.26,132.66L476.94,136.34M475.1,131.9L475.1,137.1M476.94,132.66L473.26,136.34" stroke="#b0a850" stroke-width="0.8"/>
<circle cx="480.8" cy="149" r="1.6" fill="#f4f4e0"/><path d="M478.2,149L483.4,149M478.96,147.16L482.64,150.84M480.8,146.4L480.8,151.6M482.64,147.16L478.96,150.84" stroke="#b0a850" stroke-width="0.8"/>
<circle cx="485.9" cy="129.2" r="1.6" fill="#f4f4e0"/><path d="M483.3,129.2L488.5,129.2M484.06,127.36L487.74,131.04M485.9,126.6L485.9,131.8M487.74,127.36L484.06,131.04" stroke="#b0a850" stroke-width="0.8"/>
<circle cx="485.8" cy="109.3" r="1.6" fill="#f4f4e0"/><path d="M483.2,109.3L488.4,109.3M483.96,107.46L487.64,111.14M485.8,106.7L485.8,111.9M487.64,107.46L483.96,111.14" stroke="#b0a850" stroke-width="0.8"/>
<circle cx="495.7" cy="130" r="1.6" fill="#f4f4e0"/><path d="M493.1,130L498.3,130M493.86,128.16L497.54,131.84M495.7,127.4L495.7,132.6M497.54,128.16L493.86,131.84" stroke="#b0a850" stroke-width="0.8"/>
<circle cx="499" cy="108.5" r="1.6" fill="#f4f4e0"/><path d="M496.4,108.5L501.6,108.5M497.16,106.66L500.84,110.34M499,105.9L499,111.1M500.84,106.66L497.16,110.34" stroke="#b0a850" stroke-width="0.8"/>
<circle cx="502" cy="92.5" r="1.6" fill="#f4f4e0"/><path d="M499.4,92.5L504.6,92.5M500.16,90.66L503.84,94.34M502,89.9L502,95.1M503.84,90.66L500.16,94.34" stroke="#b0a850" stroke-width="0.8"/>
<circle cx="513.7" cy="89.5" r="1.6" fill="#f4f4e0"/><path d="M511.1,89.5L516.3,89.5M511.86,87.66L515.54,91.34M513.7,86.9L513.7,92.1M515.54,87.66L511.86,91.34" stroke="#b0a850" stroke-width="0.8"/>
<circle cx="522.7" cy="82.6" r="1.6" fill="#f4f4e0"/><path d="M520.1,82.6L525.3,82.6M520.86,80.76L524.54,84.44M522.7,80L522.7,85.2M524.54,80.76L520.86,84.44" stroke="#b0a850" stroke-width="0.8"/>
<circle cx="536.1" cy="78.9" r="1.6" fill="#f4f4e0"/><path d="M533.5,78.9L538.7,78.9M534.26,77.06L537.94,80.74M536.1,76.3L536.1,81.5M537.94,77.06L534.26,80.74" stroke="#b0a850" stroke-width="0.8"/>
<circle cx="537.1" cy="94.4" r="1.6" fill="#f4f4e0"/><path d="M534.5,94.4L539.7,94.4M535.26,92.56L538.94,96.24M537.1,91.8L537.1,97M538.94,92.56L535.26,96.24" stroke="#b0a850" stroke-width="0.8"/>
<polyline points="310.5,224.2 316,208 319.5,193 330,218.5 336.5,187 343.7,216.8 355.2,131 362.2,142.6 371.1,133 376.6,138.2 388.3,146.8 403.8,117.2 413.6,124.6 426.2,148 444.7,162.4 454.1,140 466.7,140 477.4,157.6 496,144.2 507.3,134.5 519.4,134.5 525.5,142.2 536,151" fill="none" stroke="#0000ff" stroke-width="1.9" stroke-linejoin="round" stroke-opacity="1"/>
<polygon points="310.5,221.47 307.65,226.43 313.35,226.43" fill="#fff" stroke="#0000ff" stroke-width="1.35" stroke-linejoin="miter"/>
<polygon points="316,205.27 313.15,210.23 318.85,210.23" fill="#fff" stroke="#0000ff" stroke-width="1.35" stroke-linejoin="miter"/>
<polygon points="319.5,190.27 316.65,195.23 322.35,195.23" fill="#fff" stroke="#0000ff" stroke-width="1.35" stroke-linejoin="miter"/>
<polygon points="330,215.77 327.15,220.73 332.85,220.73" fill="#fff" stroke="#0000ff" stroke-width="1.35" stroke-linejoin="miter"/>
<polygon points="336.5,184.27 333.65,189.23 339.35,189.23" fill="#fff" stroke="#0000ff" stroke-width="1.35" stroke-linejoin="miter"/>
<polygon points="343.7,214.07 340.85,219.03 346.55,219.03" fill="#fff" stroke="#0000ff" stroke-width="1.35" stroke-linejoin="miter"/>
<polygon points="355.2,128.27 352.35,133.23 358.05,133.23" fill="#fff" stroke="#0000ff" stroke-width="1.35" stroke-linejoin="miter"/>
<polygon points="362.2,139.87 359.35,144.83 365.05,144.83" fill="#fff" stroke="#0000ff" stroke-width="1.35" stroke-linejoin="miter"/>
<polygon points="371.1,130.27 368.25,135.23 373.95,135.23" fill="#fff" stroke="#0000ff" stroke-width="1.35" stroke-linejoin="miter"/>
<polygon points="376.6,135.47 373.75,140.43 379.45,140.43" fill="#fff" stroke="#0000ff" stroke-width="1.35" stroke-linejoin="miter"/>
<polygon points="388.3,144.07 385.45,149.03 391.15,149.03" fill="#fff" stroke="#0000ff" stroke-width="1.35" stroke-linejoin="miter"/>
<polygon points="403.8,114.47 400.95,119.43 406.65,119.43" fill="#fff" stroke="#0000ff" stroke-width="1.35" stroke-linejoin="miter"/>
<polygon points="413.6,121.87 410.75,126.83 416.45,126.83" fill="#fff" stroke="#0000ff" stroke-width="1.35" stroke-linejoin="miter"/>
<polygon points="426.2,145.27 423.35,150.23 429.05,150.23" fill="#fff" stroke="#0000ff" stroke-width="1.35" stroke-linejoin="miter"/>
<polygon points="444.7,159.67 441.85,164.63 447.55,164.63" fill="#fff" stroke="#0000ff" stroke-width="1.35" stroke-linejoin="miter"/>
<polygon points="454.1,137.27 451.25,142.23 456.95,142.23" fill="#fff" stroke="#0000ff" stroke-width="1.35" stroke-linejoin="miter"/>
<polygon points="466.7,137.27 463.85,142.23 469.55,142.23" fill="#fff" stroke="#0000ff" stroke-width="1.35" stroke-linejoin="miter"/>
<polygon points="477.4,154.87 474.55,159.83 480.25,159.83" fill="#fff" stroke="#0000ff" stroke-width="1.35" stroke-linejoin="miter"/>
<polygon points="496,141.47 493.15,146.43 498.85,146.43" fill="#fff" stroke="#0000ff" stroke-width="1.35" stroke-linejoin="miter"/>
<polygon points="507.3,131.77 504.45,136.73 510.15,136.73" fill="#fff" stroke="#0000ff" stroke-width="1.35" stroke-linejoin="miter"/>
<polygon points="519.4,131.77 516.55,136.73 522.25,136.73" fill="#fff" stroke="#0000ff" stroke-width="1.35" stroke-linejoin="miter"/>
<polygon points="525.5,139.47 522.65,144.43 528.35,144.43" fill="#fff" stroke="#0000ff" stroke-width="1.35" stroke-linejoin="miter"/>
<polygon points="536,148.27 533.15,153.23 538.85,153.23" fill="#fff" stroke="#0000ff" stroke-width="1.35" stroke-linejoin="miter"/>
</g></svg>
<rect x="33" y="36.5" width="232.6" height="209" fill="none" stroke="#3a3a3a" stroke-width="1.2"/>
<line x1="29.2" y1="245.5" x2="33" y2="245.5" stroke="#222" stroke-width="1"/>
<text x="27.1" y="248.8" text-anchor="end" class="tk">0</text>
<line x1="29.2" y1="213.27" x2="33" y2="213.27" stroke="#222" stroke-width="1"/>
<text x="27.1" y="216.57" text-anchor="end" class="tk">10</text>
<line x1="29.2" y1="181.04" x2="33" y2="181.04" stroke="#222" stroke-width="1"/>
<text x="27.1" y="184.34" text-anchor="end" class="tk">20</text>
<line x1="29.2" y1="148.81" x2="33" y2="148.81" stroke="#222" stroke-width="1"/>
<text x="27.1" y="152.11" text-anchor="end" class="tk">30</text>
<line x1="29.2" y1="116.58" x2="33" y2="116.58" stroke="#222" stroke-width="1"/>
<text x="27.1" y="119.88" text-anchor="end" class="tk">40</text>
<line x1="29.2" y1="84.35" x2="33" y2="84.35" stroke="#222" stroke-width="1"/>
<text x="27.1" y="87.65" text-anchor="end" class="tk">50</text>
<line x1="29.2" y1="52.12" x2="33" y2="52.12" stroke="#222" stroke-width="1"/>
<text x="27.1" y="55.42" text-anchor="end" class="tk">60</text>
<line x1="32.7" y1="245.5" x2="32.7" y2="249.4" stroke="#222" stroke-width="1"/>
<text transform="translate(35.8,251.5) rotate(-90)" text-anchor="end" class="tk">0</text>
<line x1="70.92" y1="245.5" x2="70.92" y2="249.4" stroke="#222" stroke-width="1"/>
<text transform="translate(74.02,251.5) rotate(-90)" text-anchor="end" class="tk">50</text>
<line x1="109.14" y1="245.5" x2="109.14" y2="249.4" stroke="#222" stroke-width="1"/>
<text transform="translate(112.24,251.5) rotate(-90)" text-anchor="end" class="tk">100</text>
<line x1="147.36" y1="245.5" x2="147.36" y2="249.4" stroke="#222" stroke-width="1"/>
<text transform="translate(150.46,251.5) rotate(-90)" text-anchor="end" class="tk">150</text>
<line x1="185.58" y1="245.5" x2="185.58" y2="249.4" stroke="#222" stroke-width="1"/>
<text transform="translate(188.68,251.5) rotate(-90)" text-anchor="end" class="tk">200</text>
<line x1="223.8" y1="245.5" x2="223.8" y2="249.4" stroke="#222" stroke-width="1"/>
<text transform="translate(226.9,251.5) rotate(-90)" text-anchor="end" class="tk">250</text>
<line x1="262.02" y1="245.5" x2="262.02" y2="249.4" stroke="#222" stroke-width="1"/>
<text transform="translate(265.12,251.5) rotate(-90)" text-anchor="end" class="tk">300</text>
<text x="149.3" y="280" text-anchor="middle" class="ax">Time Stamp</text>
<text x="146.3" y="296.8" text-anchor="middle" class="lab">(a)</text>
<text transform="translate(14.1,147.3) rotate(-90)" text-anchor="middle" class="ax">Wind Power (kWh)</text>
<text x="259.2" y="237" text-anchor="end" class="ann">[24 hr-ahead estimation]</text>
<rect x="309.2" y="36.5" width="233.2" height="209" fill="none" stroke="#3a3a3a" stroke-width="1.2"/>
<line x1="305.4" y1="245.5" x2="309.2" y2="245.5" stroke="#222" stroke-width="1"/>
<text x="303.3" y="248.8" text-anchor="end" class="tk">0</text>
<line x1="305.4" y1="213.27" x2="309.2" y2="213.27" stroke="#222" stroke-width="1"/>
<text x="303.3" y="216.57" text-anchor="end" class="tk">10</text>
<line x1="305.4" y1="181.04" x2="309.2" y2="181.04" stroke="#222" stroke-width="1"/>
<text x="303.3" y="184.34" text-anchor="end" class="tk">20</text>
<line x1="305.4" y1="148.81" x2="309.2" y2="148.81" stroke="#222" stroke-width="1"/>
<text x="303.3" y="152.11" text-anchor="end" class="tk">30</text>
<line x1="305.4" y1="116.58" x2="309.2" y2="116.58" stroke="#222" stroke-width="1"/>
<text x="303.3" y="119.88" text-anchor="end" class="tk">40</text>
<line x1="305.4" y1="84.35" x2="309.2" y2="84.35" stroke="#222" stroke-width="1"/>
<text x="303.3" y="87.65" text-anchor="end" class="tk">50</text>
<line x1="305.4" y1="52.12" x2="309.2" y2="52.12" stroke="#222" stroke-width="1"/>
<text x="303.3" y="55.42" text-anchor="end" class="tk">60</text>
<line x1="309.1" y1="245.5" x2="309.1" y2="249.4" stroke="#222" stroke-width="1"/>
<text transform="translate(312.2,251.5) rotate(-90)" text-anchor="end" class="tk">0</text>
<line x1="347.34" y1="245.5" x2="347.34" y2="249.4" stroke="#222" stroke-width="1"/>
<text transform="translate(350.44,251.5) rotate(-90)" text-anchor="end" class="tk">50</text>
<line x1="385.58" y1="245.5" x2="385.58" y2="249.4" stroke="#222" stroke-width="1"/>
<text transform="translate(388.68,251.5) rotate(-90)" text-anchor="end" class="tk">100</text>
<line x1="423.82" y1="245.5" x2="423.82" y2="249.4" stroke="#222" stroke-width="1"/>
<text transform="translate(426.92,251.5) rotate(-90)" text-anchor="end" class="tk">150</text>
<line x1="462.06" y1="245.5" x2="462.06" y2="249.4" stroke="#222" stroke-width="1"/>
<text transform="translate(465.16,251.5) rotate(-90)" text-anchor="end" class="tk">200</text>
<line x1="500.3" y1="245.5" x2="500.3" y2="249.4" stroke="#222" stroke-width="1"/>
<text transform="translate(503.4,251.5) rotate(-90)" text-anchor="end" class="tk">250</text>
<line x1="538.54" y1="245.5" x2="538.54" y2="249.4" stroke="#222" stroke-width="1"/>
<text transform="translate(541.64,251.5) rotate(-90)" text-anchor="end" class="tk">300</text>
<text x="425.8" y="280" text-anchor="middle" class="ax">Time Stamp</text>
<text x="422.8" y="296.8" text-anchor="middle" class="lab">(b)</text>
<text transform="translate(290.3,147.3) rotate(-90)" text-anchor="middle" class="ax">Solar Power (kWh)</text>
<text x="536.4" y="237" text-anchor="end" class="ann">[24 hr-ahead estimation]</text>
<rect x="33.6" y="4.5" width="230" height="27" fill="#fff" stroke="#d0d0d0" stroke-width="1"/>
<line x1="45" y1="15.2" x2="64.5" y2="15.2" stroke="#c8c8c8" stroke-width="1"/>
<rect x="51.9" y="12.1" width="6.2" height="6.2" fill="#000"/>
<text x="67.3" y="18.3" class="lg">LSTM</text>
<line x1="99.3" y1="15.2" x2="118.8" y2="15.2" stroke="#ffc8c8" stroke-width="1"/>
<circle cx="109.3" cy="15.2" r="3.6" fill="none" stroke="#ff0000" stroke-width="1"/><path d="M106.6,12.5L112,17.9M106.6,17.9L112,12.5" stroke="#ff0000" stroke-width="1"/>
<text x="121.6" y="18.3" class="lg">LightGBM</text>
<line x1="171.2" y1="15.2" x2="190.7" y2="15.2" stroke="#b0f0b0" stroke-width="1"/>
<circle cx="181.2" cy="15.2" r="3.6" fill="#00ee00"/>
<text x="193.5" y="18.3" class="lg">Sequenced GRU</text>
<line x1="63.3" y1="26.7" x2="82.8" y2="26.7" stroke="#c8c890" stroke-width="1"/>
<path d="M69.1,26.7L77.5,26.7M70.33,23.73L76.27,29.67M73.3,22.5L73.3,30.9M76.27,23.73L70.33,29.67" stroke="#808000" stroke-width="1"/>
<text x="85.6" y="29.8" class="lg">EL Method</text>
<line x1="144" y1="26.7" x2="163.5" y2="26.7" stroke="#b0b0ff" stroke-width="1"/>
<polygon points="154,22.87 150,29.83 158,29.83" fill="#fff" stroke="#0000ff" stroke-width="1.4" stroke-linejoin="miter"/>
<text x="166.3" y="29.8" class="lg">Actual Generation</text>
<rect x="309.6" y="4.5" width="230" height="27" fill="#fff" stroke="#d0d0d0" stroke-width="1"/>
<line x1="321.4" y1="15.2" x2="340.9" y2="15.2" stroke="#c8c8c8" stroke-width="1"/>
<rect x="328.3" y="12.1" width="6.2" height="6.2" fill="#000"/>
<text x="343.7" y="18.3" class="lg">LSTM</text>
<line x1="376" y1="15.2" x2="395.5" y2="15.2" stroke="#b0b0ff" stroke-width="1"/>
<polygon points="386,11.37 382,18.33 390,18.33" fill="#fff" stroke="#0000ff" stroke-width="1.4" stroke-linejoin="miter"/>
<text x="398.3" y="18.3" class="lg">LightGBM</text>
<line x1="448.1" y1="15.2" x2="467.6" y2="15.2" stroke="#b0f0b0" stroke-width="1"/>
<circle cx="458.1" cy="15.2" r="3.6" fill="#00ee00"/>
<text x="470.4" y="18.3" class="lg">Sequenced GRU</text>
<line x1="340" y1="26.7" x2="359.5" y2="26.7" stroke="#ffc8c8" stroke-width="1"/>
<circle cx="350" cy="26.7" r="3.6" fill="none" stroke="#ff0000" stroke-width="1"/><path d="M347.3,24L352.7,29.4M347.3,29.4L352.7,24" stroke="#ff0000" stroke-width="1"/>
<text x="362.3" y="29.8" class="lg">EL Method</text>
<line x1="420.4" y1="26.7" x2="439.9" y2="26.7" stroke="#c8c890" stroke-width="1"/>
<path d="M426.2,26.7L434.6,26.7M427.43,23.73L433.37,29.67M430.4,22.5L430.4,30.9M433.37,23.73L427.43,29.67" stroke="#808000" stroke-width="1"/>
<text x="442.7" y="29.8" class="lg">Actual Generation</text>
</svg>
</body></html>
